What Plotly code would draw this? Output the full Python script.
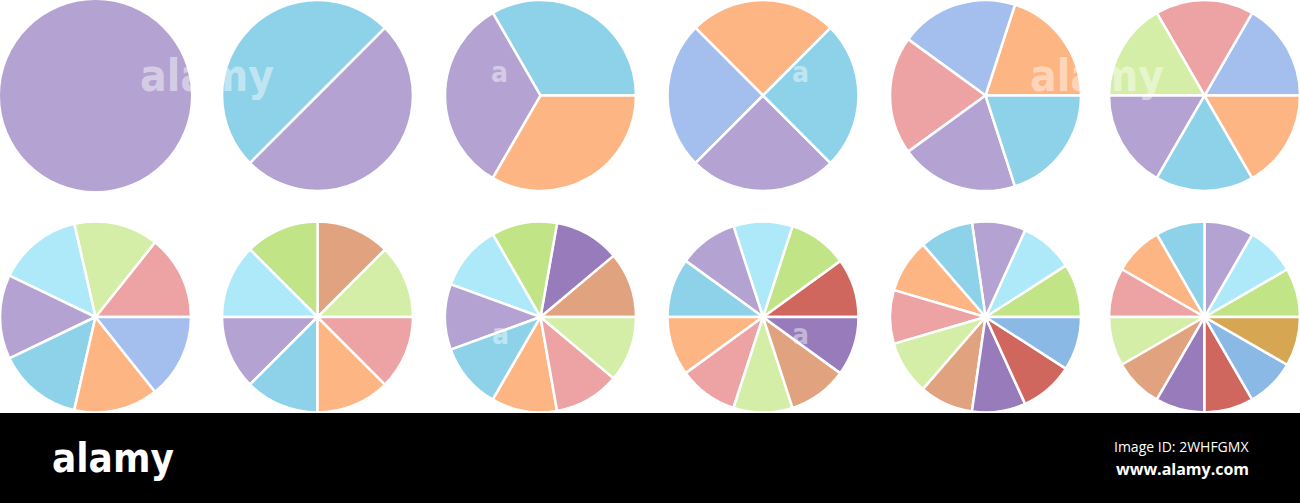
import plotly.graph_objects as go

W, H = 1300, 503

# palette
PU = "#B4A3D2"; CY = "#8ED2EA"; OR = "#FEB584"; BL = "#A4BEEE"; PK = "#EDA3A4"
LG = "#D5EEA7"; GR = "#C0E486"; LC = "#AEE9F9"; TN = "#E0A27F"; DP = "#977BBB"
RD = "#D0675F"; MB = "#8BB9E6"; GD = "#D6A653"

# data: number of equal slices per pie, and slice colours (counter-clockwise from start angle)
slice_counts = [1, 2, 3, 4, 5, 6, 7, 8, 9, 10, 11, 12]
start_angles = [90, 45, 0, 45, 0, 0, 0, 0, 0, 0, 0, 0]  # math degrees of first slice edge
pie_colors = [
    [PU],
    [CY, PU],
    [CY, PU, OR],
    [OR, BL, PU, CY],
    [OR, BL, PK, PU, CY],
    [BL, PK, LG, PU, CY, OR],
    [PK, LG, LC, PU, CY, OR, BL],
    [LG, TN, GR, LC, PU, CY, OR, PK],
    [TN, DP, GR, LC, PU, CY, OR, PK, LG],
    [RD, GR, LC, PU, CY, OR, PK, LG, TN, DP],
    [GR, LC, PU, CY, OR, PK, LG, TN, DP, RD, MB],
    [GR, LC, PU, CY, OR, PK, LG, TN, DP, RD, MB, GD],
]

# layout (pixels)
centers_x = [95.5, 317.5, 540.5, 763, 985.5, 1204.5] * 2
centers_y = [95.5] * 6 + [317] * 6
R = 95.5


def clamp(v):
    return max(0.0, min(1.0, v))


fig = go.Figure()
for i, n in enumerate(slice_counts):
    cx, cy = centers_x[i], centers_y[i]
    rot = 90 - (start_angles[i] + 360.0 / n)
    rot = ((rot + 360) % 720) - 360
    fig.add_trace(go.Pie(
        values=[1] * n,
        labels=[f"p{i}_{k}" for k in range(n)],
        marker=dict(colors=pie_colors[i], line=dict(color="white", width=2.5 if n > 1 else 0)),
        sort=False,
        direction="counterclockwise",
        rotation=rot,
        textinfo="none",
        hoverinfo="none",
        showlegend=False,
        domain=dict(x=[clamp((cx - R) / W), clamp((cx + R) / W)],
                    y=[clamp(1 - (cy + R) / H), clamp(1 - (cy - R) / H)]),
    ))


def px(x):
    return x / W


def py(y):
    return 1 - y / H


narrow = "DejaVu Sans Condensed, Liberation Sans Narrow, Arial Narrow, sans-serif"
wm = "rgba(255,255,255,0.45)"
annotations = [
    dict(text="<b>alamy</b>", x=px(207), y=py(75), font=dict(family=narrow, size=44, color=wm)),
    dict(text="<b>alamy</b>", x=px(1097), y=py(75), font=dict(family=narrow, size=44, color=wm)),
    dict(text="<b>a</b>", x=px(499), y=py(73), font=dict(family=narrow, size=28, color=wm)),
    dict(text="<b>a</b>", x=px(800), y=py(73), font=dict(family=narrow, size=28, color=wm)),
    dict(text="<b>a</b>", x=px(500), y=py(334), font=dict(family=narrow, size=28, color=wm)),
    dict(text="<b>a</b>", x=px(800), y=py(334), font=dict(family=narrow, size=28, color=wm)),
    dict(text="<b>alamy</b>", x=px(50), y=py(458), xanchor="left",
         font=dict(family=narrow, size=40, color="white")),
    dict(text="Image ID: 2WHFGMX", x=px(1251), y=py(446), xanchor="right",
         font=dict(family="Open Sans, Noto Sans, sans-serif", size=14, color="white")),
    dict(text="<b>www.alamy.com</b>", x=px(1251), y=py(469), xanchor="right",
         font=dict(family="Open Sans, Noto Sans, sans-serif", size=16, color="white")),
]
for a in annotations:
    a.setdefault("xanchor", "center")
    a["yanchor"] = "middle"
    a["xref"] = "paper"
    a["yref"] = "paper"
    a["showarrow"] = False

fig.update_layout(
    width=W, height=H,
    margin=dict(l=0, r=0, t=0, b=0),
    paper_bgcolor="white",
    plot_bgcolor="white",
    shapes=[dict(type="rect", xref="paper", yref="paper", x0=0, x1=1, y0=0, y1=py(413),
                 fillcolor="black", line=dict(width=0), layer="above")],
    annotations=annotations,
)

fig.write_html("out.html")
